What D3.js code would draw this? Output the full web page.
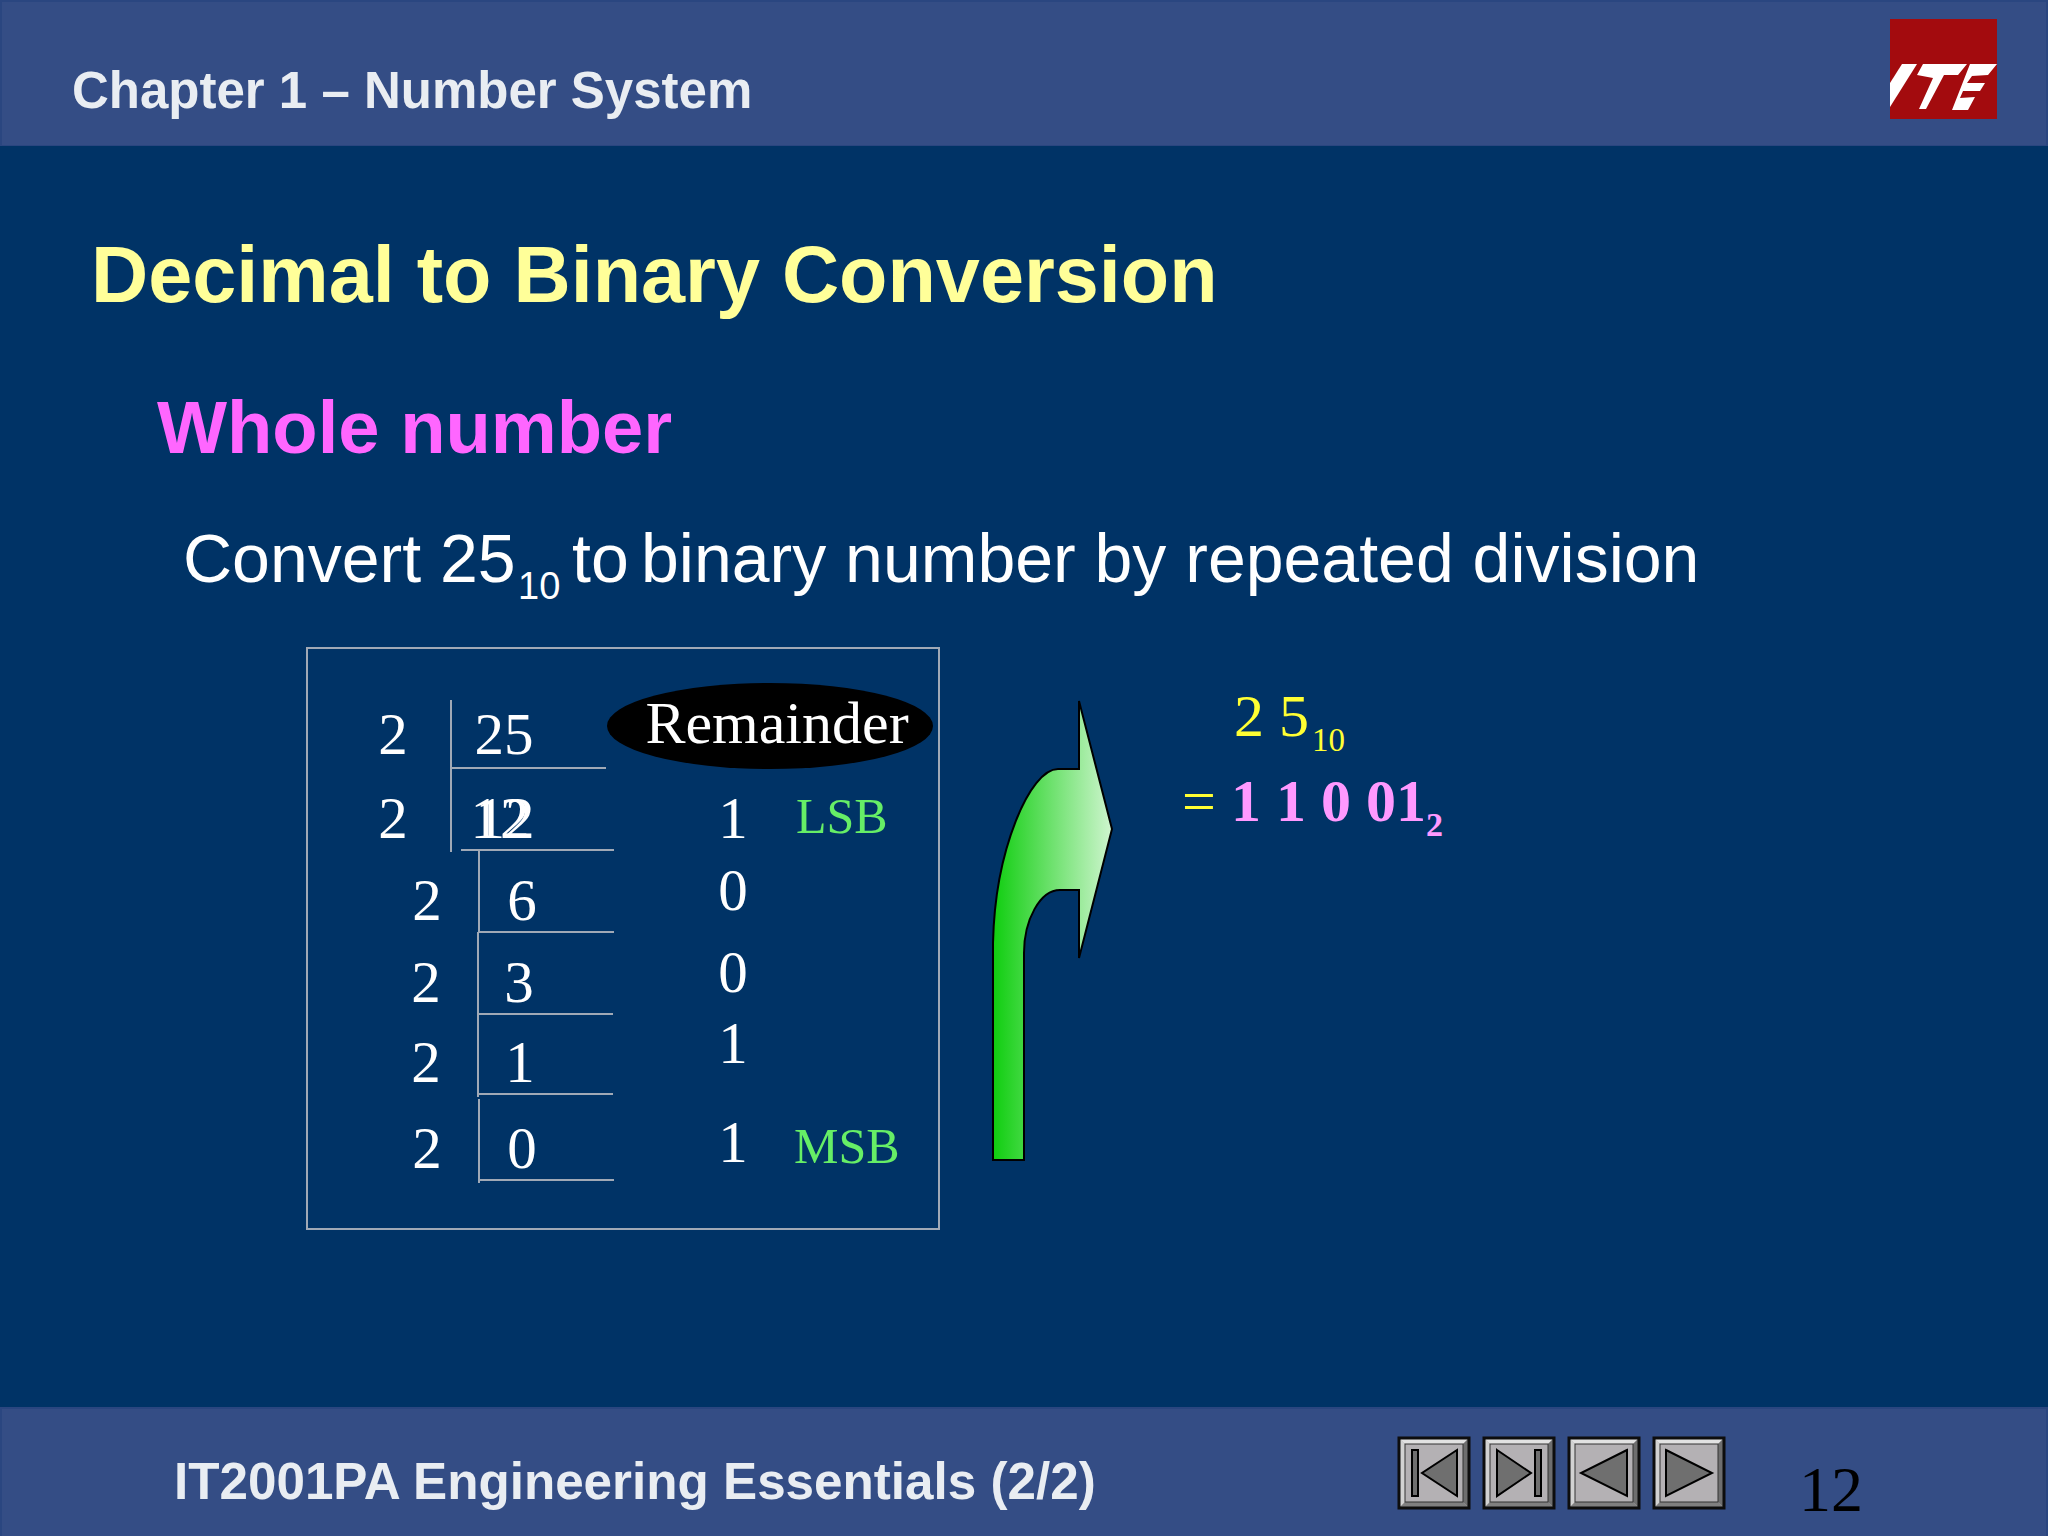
<!DOCTYPE html>
<html>
<head>
<meta charset="utf-8">
<title>Decimal to Binary Conversion</title>
<script src="https://d3js.org/d3.v7.min.js"></script>
<style>
  html, body { margin: 0; padding: 0; background: #003366; }
  svg { display: block; }
  .sans { font-family: "Liberation Sans", Arial, sans-serif; }
  .serif { font-family: "Liberation Serif", "Times New Roman", serif; }
</style>
</head>
<body>
<div id="slide"></div>
<script>
// slide text
var headerText = "Chapter 1 \u2013 Number System";
var titleText = "Decimal to Binary Conversion";
var subtitleText = "Whole number";
var footerText = "IT2001PA Engineering Essentials (2/2)";
var pageNumber = "12";

// repeated division table, one entry per row
var divisionSteps = ["s1", "s2", "s3", "s4", "s5", "s6"];
var divisors = ["2", "2", "2", "2", "2", "2"];
var quotients = ["25", "12", "6", "3", "1", "0"];
var remainders = ["1", "0", "0", "1", "1"];
var bitLabels = ["LSB", "MSB"];

// the buttons at the bottom
var navButtons = ["first", "last", "prev", "next"];

var width = 2048;
var height = 1536;

// the rows on the slide are not evenly spaced, so the scales are ordinal
var rowBaseline = d3.scaleOrdinal(divisionSteps, [754, 838, 920, 1002, 1082, 1168]);
var divisorX = d3.scaleOrdinal(divisionSteps, [393, 393, 427, 426, 426, 427]);
var quotientX = d3.scaleOrdinal(divisionSteps, [504, 505, 522, 519, 520, 522]);
var ruleY = d3.scaleOrdinal(divisionSteps, [768, 850, 932, 1014, 1094, 1180]);
var ruleX1 = d3.scaleOrdinal(divisionSteps, [452, 461, 479, 478, 478, 479]);
var ruleX2 = d3.scaleOrdinal(divisionSteps, [606, 614, 614, 613, 613, 614]);
var remainderY = d3.scaleOrdinal(d3.range(5), [838, 910, 992, 1063, 1162]);
var bitLabelX = d3.scaleOrdinal(bitLabels, [796, 794]);
var bitLabelY = d3.scaleOrdinal(bitLabels, [833, 1163]);
var buttonX = d3.scaleOrdinal(navButtons, [1399, 1484, 1569, 1654]);

var lineColor = "#a0a9b6";

var svg = d3.select("#slide")
    .append("svg")
    .attr("width", width)
    .attr("height", height)
    .attr("viewBox", `0 0 ${width} ${height}`);

var defs = svg.append("defs");

// arrow fill, strong green on the left fading out to the right
var arrowGradient = defs.append("linearGradient")
    .attr("id", "arrowFill")
    .attr("x1", "0%").attr("x2", "100%")
    .attr("y1", "0%").attr("y2", "0%");
arrowGradient.append("stop").attr("offset", "0%").attr("stop-color", "#0fce0f");
arrowGradient.append("stop").attr("offset", "100%").attr("stop-color", "#cff5cf");

// BACKGROUND AND BANDS
svg.append("rect").attr("width", width).attr("height", height).attr("fill", "#003366");

// a band has a thin darker edge along the top and the sides
function band(y, h) {
    svg.append("rect")
        .attr("x", 0).attr("y", y)
        .attr("width", width).attr("height", h)
        .attr("fill", "#2a4680");
    svg.append("rect")
        .attr("x", 2).attr("y", y + 2)
        .attr("width", width - 4).attr("height", h - 3)
        .attr("fill", "#344d85");
}
band(0, 146);
band(1407, 131);

// small helper for all the text on the slide
function label(x, y, text, size, color, family, weight, anchor) {
    return svg.append("text")
        .attr("class", family)
        .attr("x", x)
        .attr("y", y)
        .attr("font-size", size)
        .attr("font-weight", weight || "normal")
        .attr("text-anchor", anchor || "start")
        .attr("fill", color)
        .text(text);
}

// HEADER
label(72, 108, headerText, 51, "#e9edf2", "sans", "bold");

// logo
var logo = svg.append("g").attr("transform", "translate(1860, 0)");
logo.append("rect").attr("x", 30).attr("y", 19).attr("width", 107).attr("height", 100).attr("fill", "#a30b0e");
var logoShapes = [
    "M30,83 L42,64 L57,64 L30,107 Z",
    "M63,64 L107,64 L98,75 L84,75 L66,109 L59,109 L73,78 L57,75 Z",
    "M110,64 L137,64 L128,75 L112,76 L107,83 L125,83 L120,91 L103,91 L100,98 L115,97 L108,110 L92,110 Z"
];
logo.selectAll("path")
    .data(logoShapes)
    .enter()
    .append("path")
    .attr("d", d => d)
    .attr("fill", "#ffffff");

// TITLES
label(91, 302, titleText, 79.2, "#ffff99", "sans", "bold");
label(157, 453, subtitleText, 74.2, "#ff66ff", "sans", "bold");

// sentence, the 10 is a subscript and the gap after "to" is a bit tight
label(183, 582, "Convert 25", 68, "#ffffff", "sans");
label(518, 599, "10", 38, "#ffffff", "sans");
label(572, 582, "to", 68, "#ffffff", "sans");
label(641, 582, "binary number by repeated division", 68, "#ffffff", "sans");

// TABLE
svg.append("rect")
    .attr("x", 307).attr("y", 648)
    .attr("width", 632).attr("height", 581)
    .attr("fill", "none")
    .attr("stroke", lineColor)
    .attr("stroke-width", 2);

var rows = d3.zip(divisionSteps, divisors, quotients);

svg.selectAll(".divisor")
    .data(rows)
    .enter()
    .append("text")
    .attr("class", "divisor serif")
    .attr("x", d => divisorX(d[0]))
    .attr("y", d => rowBaseline(d[0]))
    .attr("font-size", 59)
    .attr("text-anchor", "middle")
    .attr("fill", "#ffffff")
    .text(d => d[1]);

svg.selectAll(".quotient")
    .data(rows)
    .enter()
    .append("text")
    .attr("class", "quotient serif")
    .attr("x", d => quotientX(d[0]))
    .attr("y", d => rowBaseline(d[0]))
    .attr("font-size", 59)
    .attr("text-anchor", "middle")
    .attr("fill", "#ffffff")
    .text(d => d[2]);

// the 12 is on the slide twice, one copy a few pixels off the other
label(quotientX("s2") - 5, rowBaseline("s2"), quotients[1], 59, "#ffffff", "serif", "normal", "middle");

svg.selectAll(".rule")
    .data(divisionSteps)
    .enter()
    .append("line")
    .attr("class", "rule")
    .attr("x1", d => ruleX1(d))
    .attr("x2", d => ruleX2(d))
    .attr("y1", d => ruleY(d))
    .attr("y2", d => ruleY(d))
    .attr("stroke", lineColor)
    .attr("stroke-width", 2);

// vertical division bars
var bars = [[451, 700, 852], [479, 850, 932], [478, 932, 1097], [479, 1099, 1183]];
svg.selectAll(".bar")
    .data(bars)
    .enter()
    .append("line")
    .attr("class", "bar")
    .attr("x1", d => d[0])
    .attr("x2", d => d[0])
    .attr("y1", d => d[1])
    .attr("y2", d => d[2])
    .attr("stroke", lineColor)
    .attr("stroke-width", 2);

// Remainder heading
svg.append("ellipse")
    .attr("cx", 770).attr("cy", 726)
    .attr("rx", 163).attr("ry", 43)
    .attr("fill", "#000000");
label(777, 743, "Remainder", 60, "#ffffff", "serif", "normal", "middle");

svg.selectAll(".remainder")
    .data(remainders)
    .enter()
    .append("text")
    .attr("class", "remainder serif")
    .attr("x", 733)
    .attr("y", (d, i) => remainderY(i))
    .attr("font-size", 59)
    .attr("text-anchor", "middle")
    .attr("fill", "#ffffff")
    .text(d => d);

svg.selectAll(".bitLabel")
    .data(bitLabels)
    .enter()
    .append("text")
    .attr("class", "bitLabel serif")
    .attr("x", d => bitLabelX(d))
    .attr("y", d => bitLabelY(d))
    .attr("font-size", 50)
    .attr("fill", "#66ee66")
    .text(d => d);

// ARROW
var arrow = d3.path();
arrow.moveTo(993, 1160);
arrow.lineTo(1024, 1160);
arrow.lineTo(1024, 953);
arrow.bezierCurveTo(1024, 920, 1040, 890, 1060, 890);
arrow.lineTo(1079, 890);
arrow.lineTo(1079, 958);
arrow.lineTo(1112, 829);
arrow.lineTo(1079, 701);
arrow.lineTo(1079, 769);
arrow.lineTo(1058, 769);
arrow.bezierCurveTo(1030, 769, 995, 850, 993, 943);
arrow.closePath();

svg.append("path")
    .attr("d", arrow.toString())
    .attr("fill", "url(#arrowFill)")
    .attr("stroke", "#000000")
    .attr("stroke-width", 2);

// RESULT
var resultDecimal = "2 5";
var resultBinary = "1 1 0 01";
label(1234, 736, resultDecimal, 60, "#ffff33", "serif").attr("xml:space", "preserve");
label(1312, 751, "10", 33, "#ffff33", "serif");
label(1182, 821, "=", 60, "#ffff33", "serif");
label(1231, 821, resultBinary, 60, "#ff99ff", "serif", "bold").attr("xml:space", "preserve");
label(1426, 836, "2", 34, "#ff99ff", "serif", "bold");

// FOOTER
label(174, 1499, footerText, 51.2, "#e9edf2", "sans", "bold");
label(1799, 1511, pageNumber, 64, "#000000", "serif");

// nav buttons, bevel first and then the icon on top
var buttonSize = 70;
var bevel = 6;

var buttons = svg.selectAll(".button")
    .data(navButtons)
    .enter()
    .append("g")
    .attr("class", "button")
    .attr("transform", d => `translate(${buttonX(d)}, 1438)`);

buttons.append("rect")
    .attr("width", buttonSize).attr("height", buttonSize)
    .attr("fill", "#b4b1b4");

function bevelSide(points, color) {
    buttons.append("polygon")
        .attr("points", points)
        .attr("fill", color);
}
var s = buttonSize;
var b = bevel;
bevelSide(`0,0 ${s},0 ${s - b},${b} ${b},${b}`, "#e2e2e2");
bevelSide(`0,0 ${b},${b} ${b},${s - b} 0,${s}`, "#d2d2d2");
bevelSide(`${s},0 ${s},${s} ${s - b},${s - b} ${s - b},${b}`, "#6e6e6e");
bevelSide(`0,${s} ${s},${s} ${s - b},${s - b} ${b},${s - b}`, "#808080");

buttons.append("rect")
    .attr("x", b).attr("y", b)
    .attr("width", s - 2 * b).attr("height", s - 2 * b)
    .attr("fill", "none")
    .attr("stroke", "#333333")
    .attr("stroke-width", 1);

buttons.append("rect")
    .attr("width", s).attr("height", s)
    .attr("fill", "none")
    .attr("stroke", "#0d0d0d")
    .attr("stroke-width", 3);

var iconPoints = {
    first: "58,12 23,35 58,58",
    last: "13,12 47,35 13,58",
    prev: "58,12 12,35 58,58",
    next: "12,12 58,35 12,58"
};
buttons.append("polygon")
    .attr("points", d => iconPoints[d])
    .attr("fill", "#6f6f6f")
    .attr("stroke", "#000000")
    .attr("stroke-width", 2);

buttons.filter(d => d === "first" || d === "last")
    .append("rect")
    .attr("x", d => d === "first" ? 13 : 51)
    .attr("y", 12)
    .attr("width", 6)
    .attr("height", 46)
    .attr("fill", "#6f6f6f")
    .attr("stroke", "#000000")
    .attr("stroke-width", 2);
</script>
</body>
</html>
